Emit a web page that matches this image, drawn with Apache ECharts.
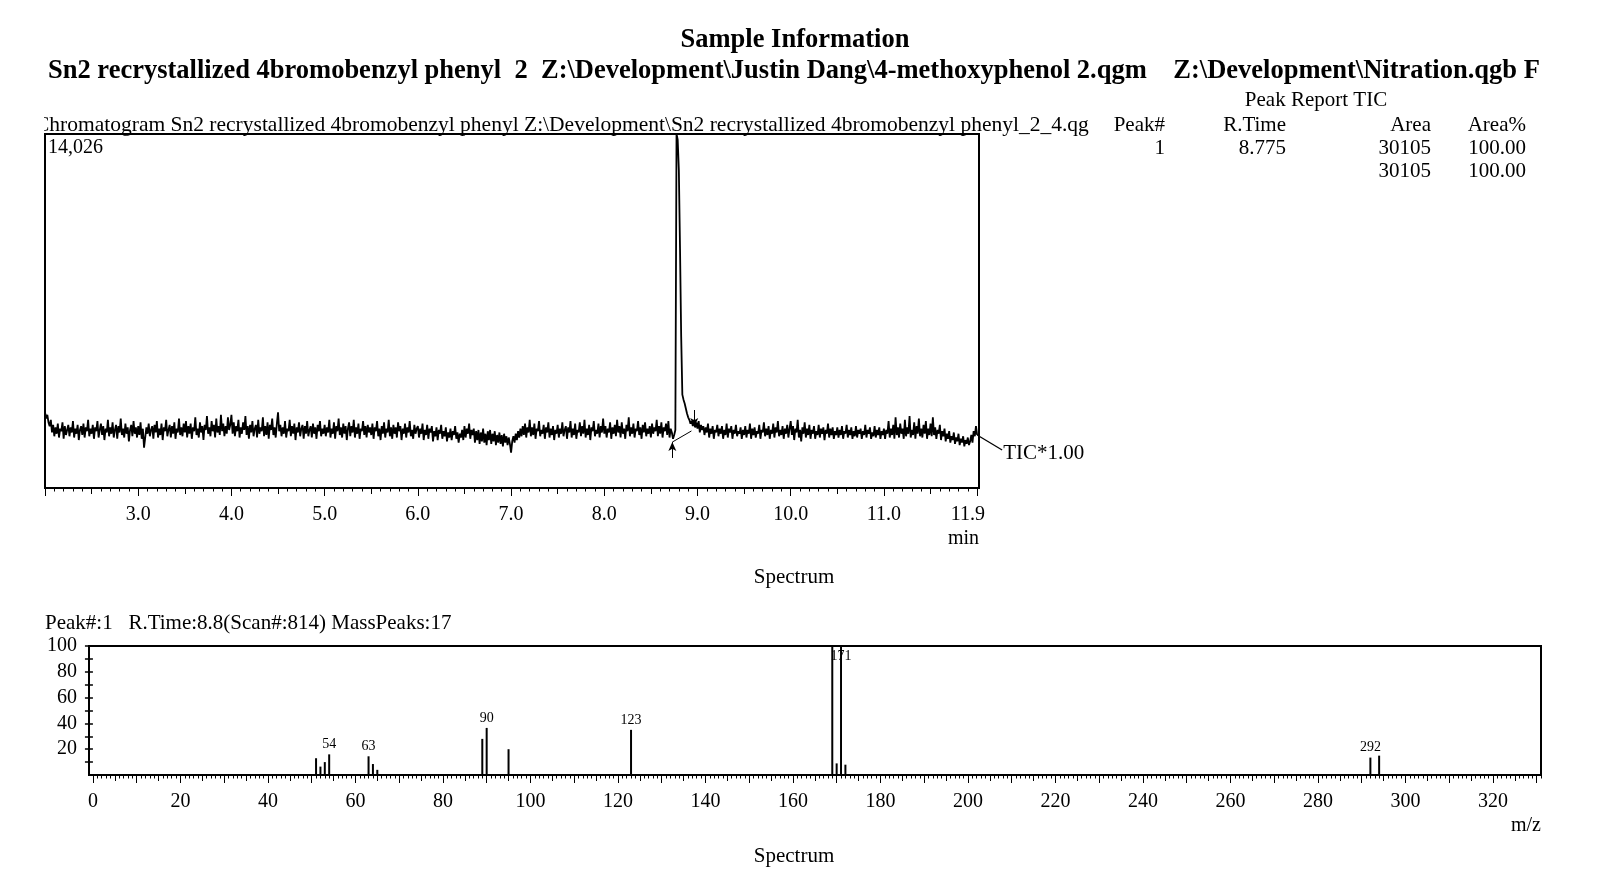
<!DOCTYPE html>
<html>
<head>
<meta charset="utf-8">
<title>Sample Information</title>
<script src="https://cdn.jsdelivr.net/npm/echarts@6/dist/echarts.min.js"></script>
<style>
  html, body { margin: 0; padding: 0; background: #fff; }
  #chart { width: 1606px; height: 883px; }
</style>
</head>
<body>
<div id="chart"></div>
<script>
// TIC chromatogram, one reading every 0.0125 min starting at 2.0 min (40 per row = 0.5 min)
var ticStart = 2.0;
var ticStep = 0.0125;
var ticMax = 14026;
var ticValues = [
  3000, 2750, 2900, 2600, 2450, 2700, 2200, 2500, 2050, 2400, 2150, 2550, 2000, 2350, 2250, 2600, 1950, 2450, 2100, 2300, 2500, 2050, 2400, 2200, 2650, 2000, 2350, 2150, 2500, 1900, 2300, 2450, 2100, 2550, 2000, 2400, 2250, 2700, 2050, 2350,
  2150, 2500, 1950, 2400, 2250, 2650, 2000, 2300, 2550, 2100, 2450, 1900, 2350, 2200, 2700, 2050, 2400, 2150, 2600, 2000, 2300, 2500, 1950, 2450, 2200, 2750, 2100, 2350, 2000, 2550, 2150, 2400, 1850, 2300, 2500, 2050, 2650, 2150, 2400, 2000,
  2450, 2100, 2600, 1950, 2350, 1600, 2000, 2400, 2150, 2550, 2050, 2300, 2450, 1950, 2500, 2200, 2650, 2000, 2350, 2100, 2550, 1900, 2400, 2250, 2700, 2050, 2300, 2500, 2000, 2450, 2150, 2600, 1950, 2350, 2200, 2750, 2100, 2400, 2050, 2550,
  2200, 2650, 2000, 2450, 2150, 2550, 1950, 2400, 2250, 2800, 2100, 2350, 2000, 2600, 2200, 2450, 1900, 2500, 2300, 2850, 2150, 2400, 2050, 2650, 2250, 2500, 2000, 2750, 2200, 2450, 2100, 2900, 2250, 2550, 2050, 2450, 2150, 2800, 2300, 2500,
  2900, 2150, 2600, 2050, 2450, 2250, 2700, 2000, 2400, 2150, 2600, 2300, 2850, 2100, 2450, 1950, 2500, 2200, 2650, 2050, 2350, 2500, 2000, 2700, 2150, 2400, 2250, 2800, 2050, 2450, 2100, 2600, 1950, 2500, 2300, 2750, 2100, 2400, 2000, 2550,
  3000, 2250, 2500, 2050, 2400, 2150, 2650, 2000, 2350, 2250, 2700, 2050, 2450, 2150, 2550, 1900, 2400, 2200, 2600, 2050, 2350, 2500, 1950, 2450, 2150, 2650, 2050, 2300, 2450, 2000, 2550, 2150, 2400, 1950, 2500, 2250, 2650, 2050, 2350, 2150,
  2500, 2050, 2400, 2200, 2700, 2000, 2350, 2150, 2600, 1950, 2450, 2250, 2750, 2100, 2400, 2000, 2550, 2150, 2450, 1900, 2350, 2600, 2050, 2450, 2200, 2700, 2000, 2400, 2150, 2550, 1950, 2350, 2250, 2650, 2100, 2450, 2000, 2500, 2200, 2400,
  2100, 2550, 1950, 2400, 2250, 2650, 2050, 2350, 1900, 2450, 2150, 2600, 2000, 2350, 2200, 2700, 2050, 2400, 1950, 2500, 2150, 2400, 2000, 2600, 2250, 2450, 1900, 2350, 2150, 2550, 2000, 2400, 2200, 2650, 2050, 2300, 1950, 2500, 2150, 2350,
  2450, 2000, 2350, 2150, 2550, 1900, 2300, 2100, 2500, 1950, 2350, 2200, 2450, 1850, 2250, 2050, 2400, 1900, 2300, 2150, 2500, 1950, 2250, 2050, 2400, 1850, 2200, 2000, 2350, 1900, 2250, 2100, 2450, 1950, 2200, 1800, 2150, 2000, 2300, 1900,
  2450, 2000, 2350, 2150, 2550, 1950, 2300, 2100, 2350, 1800, 2250, 1900, 2300, 1750, 2200, 1850, 2350, 1800, 2150, 1700, 2250, 1900, 2300, 1750, 2150, 1850, 2250, 1700, 2100, 1800, 2200, 1750, 2100, 1650, 2150, 1800, 2050, 1700, 2000, 1750,
  1400, 1850, 2050, 1800, 2150, 1900, 2250, 2000, 2350, 2050, 2450, 2100, 2550, 2000, 2400, 2200, 2700, 2050, 2400, 2100, 2550, 1950, 2350, 2250, 2650, 2050, 2300, 2150, 2500, 1950, 2400, 2200, 2600, 2000, 2350, 2100, 2450, 1900, 2300, 2150,
  2500, 2000, 2350, 2150, 2600, 2050, 2300, 2450, 1950, 2400, 2200, 2650, 2000, 2350, 2100, 2550, 1950, 2300, 2200, 2600, 2050, 2450, 2150, 2700, 2000, 2350, 2100, 2500, 1900, 2400, 2250, 2650, 2050, 2300, 2150, 2550, 2000, 2450, 2200, 2750,
  2150, 2450, 2000, 2350, 2200, 2600, 1950, 2400, 2150, 2500, 2050, 2700, 2200, 2450, 2000, 2600, 2150, 2350, 1950, 2500, 2250, 2800, 2050, 2400, 2150, 2550, 2000, 2350, 2250, 2650, 2100, 2400, 1950, 2500, 2200, 2600, 2050, 2350, 2150, 2450,
  2000, 2550, 2150, 2400, 2250, 2700, 2050, 2450, 2150, 2600, 2000, 2400, 2250, 2550, 2100, 2650, 2000, 2350, 2200, 1950, 2100, 2300, 14026, 13800, 12600, 9500, 6000, 3700, 3500, 3350, 3150, 2950, 2800, 2700, 2550, 2650, 2450, 2700, 2400, 2600,
  2350, 2650, 2200, 2500, 2300, 2450, 2100, 2400, 2200, 2550, 2000, 2350, 2150, 2450, 1950, 2300, 2200, 2500, 2050, 2350, 2150, 2450, 1950, 2300, 2100, 2550, 2000, 2350, 2200, 2450, 1950, 2300, 2150, 2500, 2050, 2250, 2150, 2400, 1950, 2300,
  2100, 2450, 2000, 2300, 2150, 2550, 1950, 2350, 2100, 2400, 2000, 2250, 2150, 2500, 1950, 2300, 2200, 2600, 2050, 2350, 2100, 2450, 1950, 2300, 2150, 2550, 2000, 2400, 2200, 2650, 2050, 2300, 2100, 2450, 1950, 2350, 2150, 2500, 2000, 2350,
  2650, 2100, 2450, 1900, 2350, 2200, 2700, 2000, 2300, 1850, 2400, 2150, 2600, 2000, 2350, 2100, 2500, 1950, 2300, 2150, 2450, 1950, 2250, 2100, 2500, 2000, 2350, 2150, 2400, 1900, 2300, 2150, 2550, 2000, 2350, 2100, 2400, 1950, 2250, 2100,
  2400, 2000, 2300, 2100, 2450, 1950, 2250, 2150, 2500, 2000, 2300, 2100, 2400, 1950, 2250, 2050, 2450, 2000, 2300, 2150, 2350, 1950, 2250, 2100, 2500, 2000, 2300, 2150, 2400, 1950, 2200, 2050, 2450, 2000, 2300, 2100, 2400, 1950, 2250, 2100,
  2350, 1950, 2300, 2150, 2650, 2000, 2350, 2100, 2500, 1950, 2800, 2100, 2400, 2000, 2550, 2150, 2350, 1950, 2700, 2050, 2400, 2150, 2850, 2000, 2300, 2100, 2600, 1950, 2450, 2150, 2750, 2050, 2350, 2000, 2500, 2150, 2650, 1950, 2350, 2100,
  2550, 2050, 2800, 2100, 2400, 1950, 2300, 2150, 2500, 1900, 2250, 2050, 2350, 1850, 2150, 1950, 2250, 1800, 2050, 1900, 2200, 1750, 2000, 1850, 2150, 1700, 1950, 1800, 2050, 1650, 1900, 1750, 2000, 1700, 1850, 2100, 1800, 2250, 2050, 2450,
  2100
];
var timeLabels = [3.0, 4.0, 5.0, 6.0, 7.0, 8.0, 9.0, 10.0, 11.0, 11.9];

// integration marks of peak 1: baseline, start arrow, end arrow
var peakBaseline = [[8.73, 1820], [8.935, 2260]];
var peakStartArrow = [[8.73, 1190], [8.73, 1820]];
var peakEndArrow = [[8.965, 3090], [8.965, 2420]];

// peak report table
var peakHeader = ['Peak#', 'R.Time', 'Area', 'Area%'];
var peakRows = [
  ['1', '8.775', '30105', '100.00'],
  ['', '', '30105', '100.00']
];

// mass spectrum of peak 1
var mzValues = [51, 52, 53, 54, 63, 64, 65, 89, 90, 95, 123, 169, 170, 171, 172, 292, 294];
var mzIntensity = [13, 6.5, 10, 16, 14.5, 8.5, 4, 28, 36.5, 20, 35, 100, 9, 100, 8, 13.5, 15];
var mzLabelled = [54, 63, 90, 123, 171, 292];
var mzLabels = [0, 20, 40, 60, 80, 100, 120, 140, 160, 180, 200, 220, 240, 260, 280, 300, 320];
var intensityLabels = [20, 40, 60, 80, 100];

var serif = '"Liberation Serif", "Times New Roman", serif';

function ticks(from, to, step) {
  var out = [];
  for (var i = 0; from + i * step <= to + 1e-9; i++) out.push(+(from + i * step).toFixed(4));
  return out;
}

var ticData = ticValues.map(function (v, i) {
  return [+(ticStart + i * ticStep).toFixed(4), v];
});

var msData = mzValues.map(function (m, i) {
  var item = { value: [m, mzIntensity[i]], label: { show: mzLabelled.indexOf(m) >= 0 } };
  if (m === 171) item.label = { show: true, position: 'insideTop', distance: 3 };
  return item;
});

function tickAxis(grid, min, max, vals, len) {
  return {
    type: 'value', gridIndex: grid, min: min, max: max, position: 'bottom',
    axisLine: { show: false },
    axisTick: { show: true, customValues: vals, length: len, lineStyle: { color: '#000', width: 1 } },
    axisLabel: { show: false },
    splitLine: { show: false }
  };
}

function txt(x, y, text, size, align, weight) {
  return {
    type: 'text', x: x, y: y, silent: true,
    style: {
      text: text, fill: '#000', fontFamily: serif, fontSize: size, fontWeight: weight || 'normal',
      align: align || 'left', textAlign: align || 'left', verticalAlign: 'middle', textVerticalAlign: 'middle'
    }
  };
}

var colX = [1165, 1286, 1431, 1526];
var graphics = [
  txt(795, 40, 'Sample Information', 26.5, 'center', 'bold'),
  txt(48, 71, 'Sn2 recrystallized 4bromobenzyl phenyl  2  Z:\\Development\\Justin Dang\\4-methoxyphenol 2.qgm    Z:\\Development\\Nitration.qgb F', 26.5, 'left', 'bold'),
  txt(1316, 100, 'Peak Report TIC', 21, 'center'),
  {
    type: 'text', x: 35, y: 125, silent: true,
    style: {
      text: 'Chromatogram Sn2 recrystallized 4bromobenzyl phenyl Z:\\Development\\Sn2 recrystallized 4bromobenzyl phenyl_2_4.qgd',
      fill: '#000', fontFamily: serif, fontSize: 21.5, width: 1064, overflow: 'truncate', ellipsis: '',
      align: 'left', textAlign: 'left', verticalAlign: 'middle', textVerticalAlign: 'middle'
    }
  },
  { type: 'rect', shape: { x: 0, y: 108, width: 44, height: 25 }, style: { fill: '#fff' }, silent: true, z: 10 },
  txt(794, 577, 'Spectrum', 21, 'center'),
  txt(794, 856, 'Spectrum', 21, 'center'),
  txt(45, 623, 'Peak#:1   R.Time:8.8(Scan#:814) MassPeaks:17', 21, 'left')
];
peakHeader.forEach(function (h, i) { graphics.push(txt(colX[i], 125.5, h, 21, 'right')); });
peakRows.forEach(function (row, r) {
  row.forEach(function (c, i) { if (c) graphics.push(txt(colX[i], 148 + r * 23.5, c, 21, 'right')); });
});

var chart = echarts.init(document.getElementById('chart'));
var option = {
  animation: false,
  backgroundColor: '#fff',
  textStyle: { fontFamily: serif, color: '#000' },
  grid: [
    { left: 45, top: 134, width: 934, height: 354, show: true, borderColor: '#000', borderWidth: 2 },
    { left: 89, top: 646, width: 1452, height: 129, show: true, borderColor: '#000', borderWidth: 2 }
  ],
  xAxis: [
    {
      type: 'value', gridIndex: 0, min: 2.0, max: 12.02, position: 'bottom',
      axisLine: { show: false },
      axisTick: { show: true, customValues: ticks(2, 12, 1), length: 8, lineStyle: { color: '#000', width: 1 } },
      axisLabel: {
        customValues: timeLabels, margin: 17, fontSize: 20, color: '#000', fontFamily: serif,
        formatter: function (v) { return v.toFixed(1); }
      },
      splitLine: { show: false },
      name: 'min', nameLocation: 'end', nameGap: 0,
      nameTextStyle: { fontSize: 20, color: '#000', fontFamily: serif, align: 'right', verticalAlign: 'top', padding: [41, 0, 0, 0] }
    },
    tickAxis(0, 2.0, 12.02, ticks(2.5, 11.5, 1), 6),
    tickAxis(0, 2.0, 12.02, ticks(2, 12, 0.1), 3.5),
    {
      type: 'value', gridIndex: 1, min: -0.9, max: 331, position: 'bottom',
      axisLine: { show: false },
      axisTick: { show: true, customValues: ticks(0, 330, 10), length: 8, lineStyle: { color: '#000', width: 1 } },
      axisLabel: { customValues: mzLabels, margin: 17, fontSize: 20, color: '#000', fontFamily: serif },
      splitLine: { show: false },
      name: 'm/z', nameLocation: 'end', nameGap: 0,
      nameTextStyle: { fontSize: 20, color: '#000', fontFamily: serif, align: 'right', verticalAlign: 'top', padding: [41, 0, 0, 0] }
    },
    tickAxis(1, -0.9, 331, ticks(5, 325, 10), 6),
    tickAxis(1, -0.9, 331, ticks(0, 331, 1), 3.5)
  ],
  yAxis: [
    {
      type: 'value', gridIndex: 0, min: 0, max: ticMax,
      axisLine: { show: false }, axisTick: { show: false }, splitLine: { show: false },
      axisLabel: {
        inside: true, customValues: [ticMax], margin: 3, fontSize: 20, color: '#000', fontFamily: serif,
        align: 'left', verticalAlign: 'top', padding: [4, 0, 0, 0],
        formatter: function (v) { return v.toLocaleString('en-US'); }
      }
    },
    {
      type: 'value', gridIndex: 1, min: 0, max: 100,
      axisLine: { show: false }, splitLine: { show: false },
      axisTick: { show: true, customValues: ticks(10, 100, 10), length: 8, lineStyle: { color: '#000', width: 1.5 } },
      axisLabel: { customValues: intensityLabels, margin: 12, fontSize: 20, color: '#000', fontFamily: serif, padding: [3, 0, 0, 0] }
    }
  ],
  series: [
    {
      name: 'TIC', type: 'line', xAxisIndex: 0, yAxisIndex: 0, data: ticData,
      showSymbol: false, symbol: 'none',
      lineStyle: { color: '#000', width: 1.8 },
      markLine: {
        silent: true, symbol: ['none', 'none'], animation: false,
        label: { show: false },
        lineStyle: { color: '#000', width: 1, type: 'solid' },
        data: [
          [{ coord: peakBaseline[0] }, { coord: peakBaseline[1] }],
          [{ coord: peakStartArrow[0] }, { coord: peakStartArrow[1], symbol: 'arrow', symbolSize: [6, 9] }],
          [{ coord: peakEndArrow[0] }, { coord: peakEndArrow[1], symbol: 'arrow', symbolSize: [6, 9] }]
        ]
      }
    },
    {
      name: 'Spectrum', type: 'bar', xAxisIndex: 3, yAxisIndex: 1, data: msData,
      barWidth: 2, itemStyle: { color: '#000' },
      label: { position: 'top', distance: 3, fontSize: 14, color: '#000', fontFamily: serif,
        formatter: function (p) { return p.value[0]; } }
    }
  ],
  graphic: graphics
};
chart.setOption(option);

// leader line from the end of the trace to the TIC*1.00 tag
var endPt = chart.convertToPixel({ xAxisIndex: 0, yAxisIndex: 0 }, ticData[ticData.length - 1]);
graphics.push({
  type: 'line', silent: true,
  shape: { x1: endPt[0], y1: endPt[1], x2: endPt[0] + 25, y2: endPt[1] + 15 },
  style: { stroke: '#000', lineWidth: 1.3 }
});
graphics.push(txt(endPt[0] + 26, endPt[1] + 18, 'TIC*1.00', 21, 'left'));
chart.setOption({ graphic: graphics });
</script>
</body>
</html>
